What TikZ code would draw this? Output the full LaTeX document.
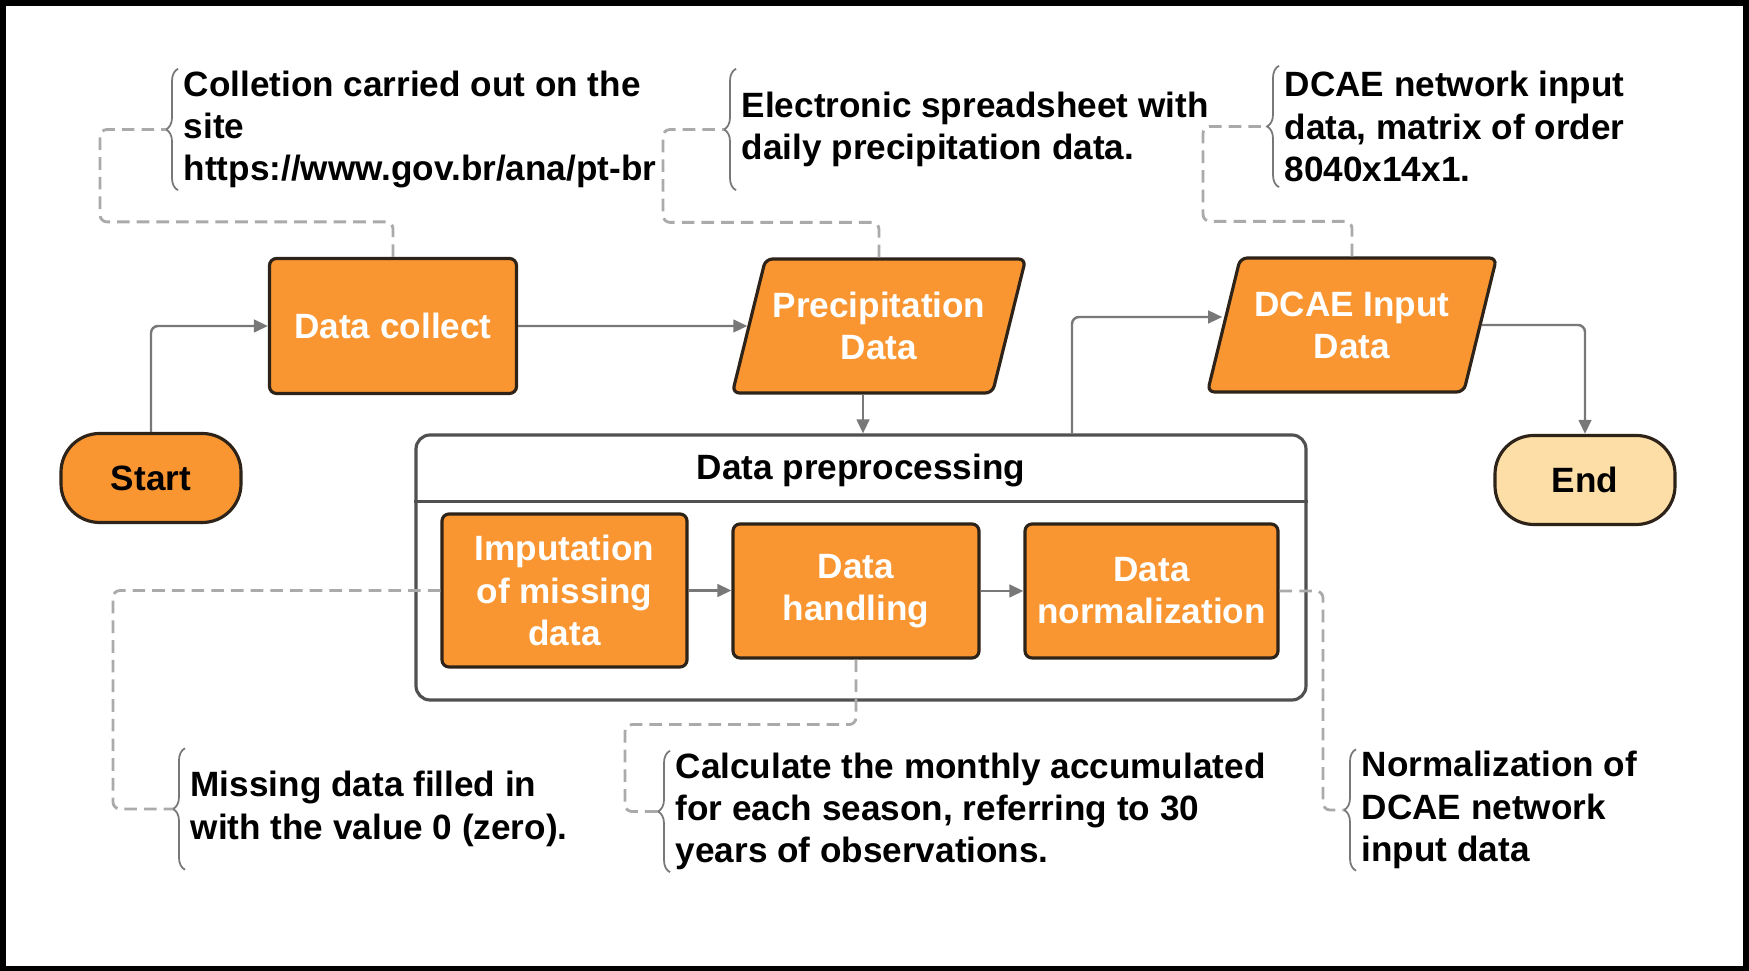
\documentclass[tikz,border=0pt]{standalone}
\usepackage{fontspec}
\setmainfont{Liberation Sans}
\usetikzlibrary{shapes.geometric, arrows.meta, decorations.pathreplacing, calc}
\definecolor{flowor}{RGB}{250,150,50}
\definecolor{endtan}{RGB}{253,222,166}
\definecolor{edgedark}{RGB}{45,35,25}
\definecolor{framegray}{RGB}{80,80,80}
\definecolor{linkgray}{RGB}{120,120,120}
\definecolor{notegray}{RGB}{170,170,170}
\definecolor{bracegray}{RGB}{120,120,120}

\begin{document}
\begin{tikzpicture}[
  font=\fontsize{10}{12}\selectfont\bfseries,
  procbox/.style={draw=edgedark, fill=flowor, line width=0.9pt, rounded corners=2pt, text=white, align=center, minimum width=2.47cm, minimum height=1.35cm, inner sep=2pt},
  iobox/.style={trapezium, trapezium left angle=68, trapezium right angle=112, trapezium stretches body, draw=edgedark, fill=flowor, line width=0.9pt, rounded corners=2pt, text=white, align=center, minimum width=2.89cm, minimum height=1.34cm, inner sep=2pt},
  termbox/.style={draw=edgedark, fill=flowor, line width=0.9pt, rounded corners=11pt, minimum width=1.80cm, minimum height=0.89cm},
  prepframe/.style={draw=framegray, line width=0.9pt, rounded corners=4pt, minimum width=8.90cm, minimum height=2.65cm},
  notetext/.style={anchor=west, align=left, inner sep=0pt, minimum height=1.2cm},
  flow/.style={draw=linkgray, line width=0.7pt, -{Triangle[length=4pt, width=3.6pt]}, rounded corners=2pt},
  notelink/.style={draw=notegray, line width=0.8pt, dash pattern=on 3.6pt off 2pt, rounded corners=2pt},
  notebrace/.style={draw=bracegray, line width=0.5pt, decorate, decoration={brace, amplitude=0.12cm}}
]
  \fill[black] (0,0) rectangle (17.49,-9.71);
  \fill[white] (0.06,-0.06) rectangle (17.43,-9.66);

  \node[prepframe] (prep) at (8.61,-5.675) {};
  \node (preptitle) at (8.61,-4.70) {Data preprocessing};
  \draw[framegray, line width=0.9pt] ([yshift=-0.68cm]prep.north west) -- ([yshift=-0.68cm]prep.north east);

  \node[termbox] (start) at (1.51,-4.78) {Start};
  \node[procbox] (collect) at (3.93,-3.26) {Data collect};
  \node[iobox] (precip) at (8.79,-3.26) {Precipitation\\Data};
  \node[iobox] (dcae) at (13.52,-3.25) {DCAE Input\\Data};
  \node[termbox, fill=endtan] (finish) at (15.85,-4.80) {End};
  \node[procbox, minimum width=2.45cm, minimum height=1.53cm] (impute) at (5.645,-5.905) {Imputation\\of missing\\data};
  \node[procbox, minimum width=2.46cm, minimum height=1.34cm] (handle) at (8.56,-5.91) {Data\\handling};
  \node[procbox, minimum width=2.53cm, minimum height=1.34cm] (normal) at (11.515,-5.91) {Data\\normalization};

  \node[notetext] (n1) at (1.83,-1.295) {Colletion carried out on the\\site\\https://www.gov.br/ana/pt-br};
  \node[notetext] (n2) at (7.41,-1.295) {Electronic spreadsheet with\\daily precipitation data.};
  \node[notetext] (n3) at (12.84,-1.265) {DCAE network input\\data, matrix of order\\8040x14x1.};
  \node[notetext] (n4) at (1.90,-8.09) {Missing data filled in\\with the value 0 (zero).};
  \node[notetext] (n5) at (6.75,-8.115) {Calculate the monthly accumulated\\for each season, referring to 30\\years of observations.};
  \node[notetext] (n6) at (13.61,-8.10) {Normalization of\\DCAE network\\input data};

  \foreach \n in {n1,n2,n3,n4,n5,n6} {
    \draw[notebrace] ([xshift=-0.05cm]\n.south west) -- ([xshift=-0.05cm]\n.north west);
    \coordinate (\n tip) at ([xshift=-0.17cm]\n.west);
  }

  \draw[flow] (start.north) |- (collect.west);
  \draw[flow] (collect.east) -- (precip.west);
  \draw[flow] ([xshift=-0.16cm]precip.south) -- ([xshift=-0.16cm]precip.south |- prep.north);
  \draw[flow] ([xshift=2.11cm]prep.north) |- ([yshift=0.08cm]dcae.west);
  \draw[flow] (dcae.east) -| (finish.north);
  \draw[flow] (impute.east) -- (impute.east -| handle.west);
  \draw[flow] (handle.east) -- (normal.west);

  \draw[notelink] (collect.north) -- ++(0,0.35) -| ([xshift=-0.66cm]n1tip) -- (n1tip);
  \draw[notelink] (precip.center |- precip.north) -- ++(0,0.35) -| ([xshift=-0.61cm]n2tip) -- (n2tip);
  \draw[notelink] (dcae.center |- dcae.north) -- ++(0,0.35) -| ([xshift=-0.64cm]n3tip) -- (n3tip);
  \draw[notelink] (impute.west) -| ([xshift=-0.60cm]n4tip) -- (n4tip);
  \draw[notelink] (handle.south) -- ++(0,-0.65) -| ([xshift=-0.33cm]n5tip) -- (n5tip);
  \draw[notelink] (normal.east) -| ([xshift=-0.21cm]n6tip) -- (n6tip);
\end{tikzpicture}
\end{document}
